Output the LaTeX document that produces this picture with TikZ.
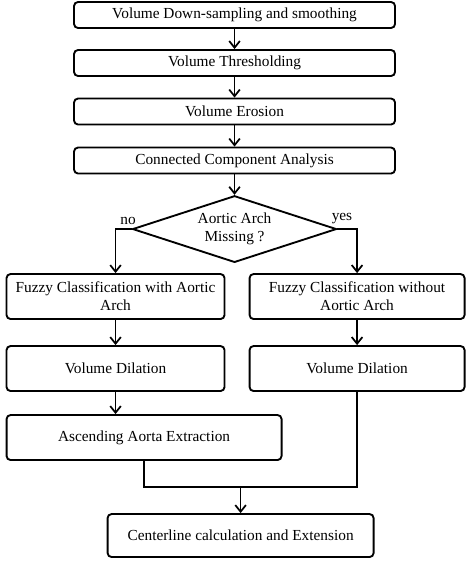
\documentclass[tikz,border=0pt]{standalone}
\usepackage{fontspec}
\setmainfont{Liberation Serif}
\usepackage{tikz}
\usetikzlibrary{shapes.geometric, arrows.meta, positioning}
\tikzstyle{process} = [rectangle, rounded corners=3pt, minimum width=240.75pt, minimum height=19.5pt, text centered, draw=black, line width=1.4pt, font=\fontsize{11.5}{13.5}\selectfont]
\tikzstyle{branch} = [process, minimum width=163.5pt, minimum height=33.75pt, align=center]
\tikzstyle{decision} = [diamond, aspect=3, minimum width=153pt, minimum height=50pt, inner sep=1pt, text centered, draw=black, line width=1.4pt, align=center, font=\fontsize{11.5}{13.5}\selectfont]
\tikzstyle{line} = [draw, line width=1.3pt, -{Straight Barb[length=5pt, width=8pt, line width=1.3pt]}]
\tikzstyle{wire} = [draw, line width=1.3pt]

\begin{document}
\begin{tikzpicture}[node distance = 36pt, auto]
    \useasboundingbox (0,0) rectangle (355.5pt,-428.25pt);
    % Nodes
    \node [process] (sample) at (175.9pt,-11.25pt) {Volume Down-sampling and smoothing};
    \node [process, below of=sample] (thresh) {Volume Thresholding};
    \node [process, below of=thresh, node distance=36.4pt] (erode) {Volume Erosion};
    \node [process, below of=erode, node distance=36.75pt] (cca) {Connected Component Analysis};
    \node [decision, below of=cca, node distance=51.4pt] (arch) {Aortic Arch \\ Missing ?};
    \node [branch, below of=arch, node distance=50.6pt, xshift=-89.25pt] (fuzzyl) {Fuzzy Classification with Aortic \\ Arch};
    \node [branch, below of=arch, node distance=50.6pt, xshift=91.9pt, minimum width=161.25pt] (fuzzyr) {Fuzzy Classification without \\ Aortic Arch};
    \node [branch, below of=fuzzyl, node distance=54pt] (dilatel) {Volume Dilation};
    \node [branch, below of=fuzzyr, node distance=54pt, minimum width=161.25pt] (dilater) {Volume Dilation};
    \node [branch, below of=dilatel, node distance=51.75pt, xshift=21.4pt, minimum width=206.25pt] (ascend) {Ascending Aorta Extraction};
    \node [branch, below of=ascend, node distance=73.5pt, xshift=72.4pt, minimum width=199.5pt, minimum height=32.25pt] (center) {Centerline calculation and Extension};
    \coordinate [above of=center, node distance=36.4pt] (join);

    % Edges
    \path [line] (sample) -- (thresh);
    \path [line] (thresh) -- (erode);
    \path [line] (erode) -- (cca);
    \path [line] (cca) -- (arch);
    \path [line] (arch.west) -| node [pos=0.5, above right, inner sep=3pt, font=\fontsize{11.5}{13.5}\selectfont] {no} (fuzzyl.north);
    \path [line] (arch.east) -| node [pos=0.5, above left, inner sep=3pt, font=\fontsize{11.5}{13.5}\selectfont] {yes} (fuzzyr.north);
    \path [line] (fuzzyl) -- (dilatel);
    \path [line] (fuzzyr) -- (dilater);
    \path [line] (dilatel) -- (dilatel |- ascend.north);
    \path [wire] (ascend.south) |- (join) -| (dilater.south);
    \path [line] (join) -- (center);
\end{tikzpicture}
\end{document}
